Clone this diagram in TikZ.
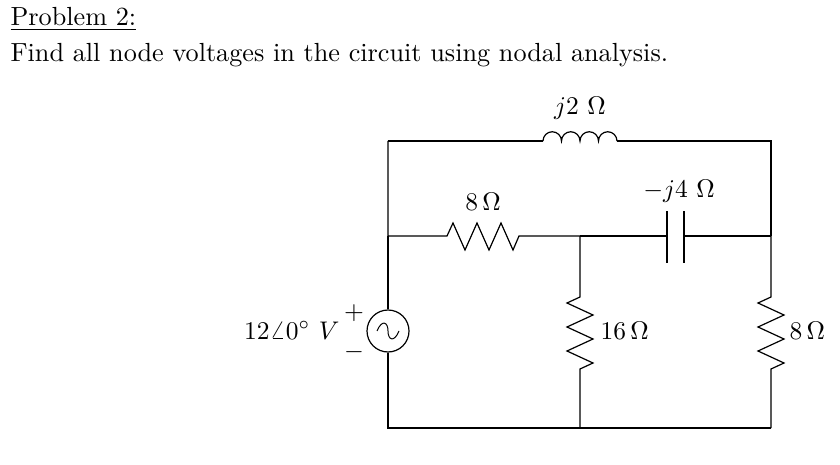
\documentclass[tikz,border=0pt]{standalone}
\begin{document}
\begin{tikzpicture}[x=1pt,y=1pt,line width=1.2pt,
  lbl/.style={scale=2.55,inner sep=0pt}]
\useasboundingbox (0,0) rectangle (840,-465);
\node[anchor=base west,inner sep=0pt,scale=2.62] (t1) at (9,-26) {\underline{Problem 2:}};
\node[anchor=base west,inner sep=0pt,scale=2.62] (t2) at (9,-62) {Find all node voltages in the circuit using nodal analysis.};
% coordinates
\coordinate (TL) at (388,-141); \coordinate (TR) at (771,-141);
\coordinate (ML) at (388,-236); \coordinate (MM) at (580,-236); \coordinate (MR) at (771,-236);
\coordinate (BL) at (388,-428); \coordinate (BM) at (580,-428); \coordinate (BR) at (771,-428);
% top with inductor
\draw (TL) -- (543,-141) coordinate (l1);
\draw (l1) arc(180:0:9.25) arc(180:0:9.25) arc(180:0:9.25) arc(180:0:9.25) coordinate (l2);
\draw (l2) -- (TR) -- (MR);
\node[lbl,anchor=base] (lL) at (580,-115) {$j2\ \Omega$};
% 8 ohm horizontal
\draw (TL) -- (ML) -- (447,-236) -- (453,-223) -- (465,-250) -- (477,-223) -- (489,-250) -- (501,-223) -- (513,-250) -- (519,-236) -- (MM);
\node[lbl,anchor=base] (lR) at (483,-211) {$8\,\Omega$};
% capacitor
\draw (MM) -- (667,-236); \draw (667,-211) -- (667,-263); \draw (684,-211) -- (684,-263);
\draw (684,-236) -- (MR);
\node[lbl,anchor=base] (lC) at (679,-197) {$-j4\ \Omega$};
% source
\node[draw,circle,minimum size=42pt,inner sep=0pt] (src) at (388,-331) {};
\draw (ML) -- (src.north); \draw (src.south) -- (BL) -- (BR);
\draw[line width=1pt] (377,-331) .. controls (382,-319) and (388,-322) .. (388,-331) .. controls (388,-340) and (394,-343) .. (399,-331);
\node[lbl] (plus) at (354,-313) {$+$};
\node[lbl] (minus) at (354,-352) {$-$};
\node[lbl,anchor=base east] (lS) at (341,-339) {$12\angle 0^\circ\ V$};
% 16 ohm
\draw (MM) -- (580,-297) -- (567,-303) -- (593,-315) -- (567,-327) -- (593,-339) -- (567,-351) -- (593,-363) -- (580,-369) -- (BM);
\node[lbl,anchor=base west] (l16) at (599,-339) {$16\,\Omega$};
% 8 ohm right
\draw (MR) -- (771,-297) -- (758,-303) -- (784,-315) -- (758,-327) -- (784,-339) -- (758,-351) -- (784,-363) -- (771,-369) -- (BR);
\node[lbl,anchor=base west] (l8) at (788,-339) {$8\,\Omega$};
\end{tikzpicture}
\end{document}
